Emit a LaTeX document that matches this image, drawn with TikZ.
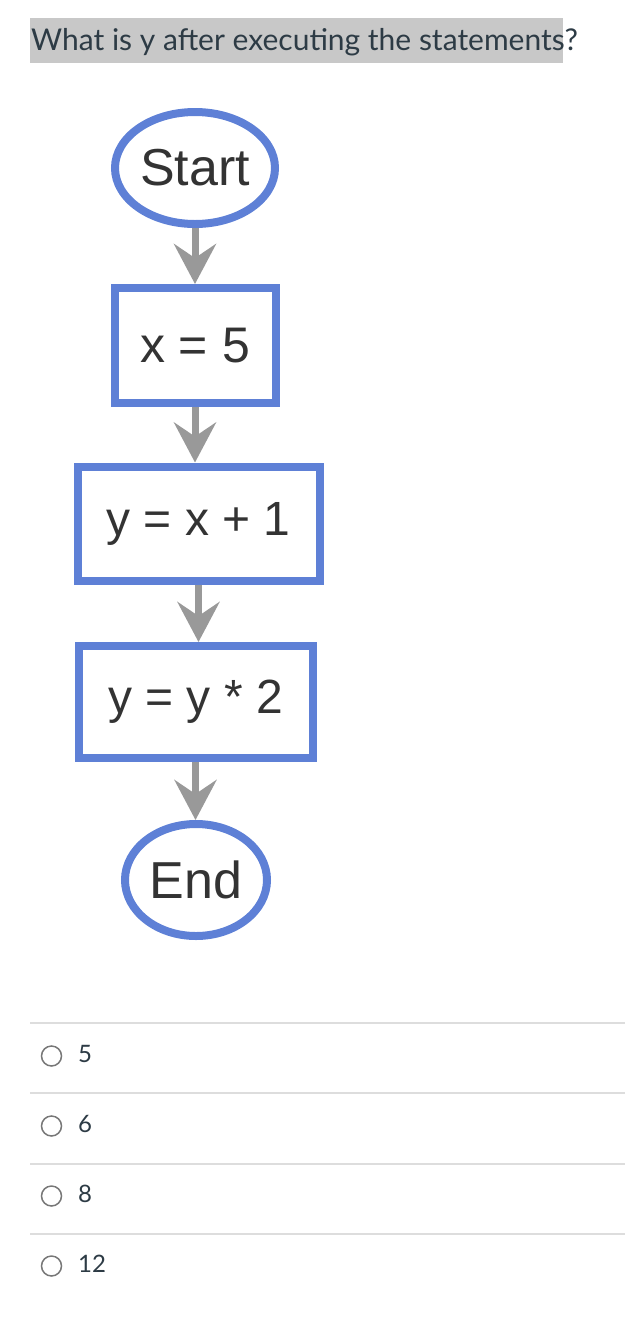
\documentclass[tikz,border=0pt]{standalone}
\usepackage{fontspec}
\setmainfont{Liberation Sans}
\newfontfamily\latofont{Lato}
\newfontfamily\flowfont{Liberation Sans}
\usetikzlibrary{shapes.geometric,arrows.meta,calc}
\definecolor{flowblue}{RGB}{94,128,214}
\definecolor{arrowgray}{RGB}{153,153,153}
\definecolor{flowtext}{RGB}{51,51,51}
\definecolor{canvastext}{RGB}{45,59,69}
\definecolor{hlgray}{RGB}{200,200,200}
\definecolor{sepgray}{RGB}{221,221,221}
\definecolor{radiogray}{RGB}{119,119,119}
\tikzset{
  terminal/.style={ellipse, draw=flowblue, line width=8pt, inner sep=0pt, text=flowtext, font=\flowfont\fontsize{52}{60}\selectfont},
  procbox/.style={rectangle, draw=flowblue, line width=8pt, inner sep=0pt, text=flowtext, font=\flowfont\fontsize{50}{60}\selectfont},
  widebox/.style={procbox, font=\flowfont\fontsize{48}{60}\selectfont},
  flowarrow/.style={draw=arrowgray, line width=7pt, -{Stealth[length=40pt,width=42pt,inset=14pt]}},
  radio/.style={circle, draw=radiogray, line width=1.5pt, minimum size=20pt, inner sep=0pt},
  answer/.style={anchor=west, inner sep=0pt, text=canvastext, font=\latofont\fontsize{24}{28}\selectfont},
  sepline/.style={draw=sepgray, line width=1.5pt}
}
\begin{document}
\begin{tikzpicture}[x=1pt,y=-1pt]
\useasboundingbox (0,0) rectangle (625,1318);
% title
\fill[hlgray] (30,18) rectangle (563,63);
\node[anchor=base west, inner sep=0pt, text=canvastext, font=\latofont\fontsize{30}{34}\selectfont] (title) at (31,50) {What is y after executing the statements?};
% flowchart
\node[terminal, minimum width=160pt, minimum height=112pt] (start) at (195,168) {Start};
\node[procbox, minimum width=161pt, minimum height=115pt] (b1) at (195,345.5) {x = 5};
\node[widebox, minimum width=242pt, minimum height=114pt] (b2) at (198.5,523.5) {y = x + 1};
\node[widebox, minimum width=234pt, minimum height=112pt] (b3) at (195.5,702) {y = y * 2};
\node[terminal, minimum width=142pt, minimum height=112pt] (end) at (196,880) {End};
\draw[flowarrow] (start.south) -- (start.south |- b1.north);
\draw[flowarrow] (b1.south) -- (b1.south |- b2.north);
\draw[flowarrow] (b2.south) -- (b2.south |- b3.north);
\draw[flowarrow] (b3.south) -- (b3.south |- end.north);
% answers
\coordinate (l1a) at (30,1023); \coordinate (l1b) at (625,1023);
\coordinate (l2a) at (30,1093); \coordinate (l2b) at (625,1093);
\coordinate (l3a) at (30,1164); \coordinate (l3b) at (625,1164);
\coordinate (l4a) at (30,1234); \coordinate (l4b) at (625,1234);
\draw[sepline] (l1a) -- (l1b);
\draw[sepline] (l2a) -- (l2b);
\draw[sepline] (l3a) -- (l3b);
\draw[sepline] (l4a) -- (l4b);
\node[radio] (r1) at (51.5,1056) {};
\node[radio] (r2) at (51.5,1126) {};
\node[radio] (r3) at (51.5,1196) {};
\node[radio] (r4) at (51.5,1266) {};
\node[answer] (a1) at (78,1054) {5};
\node[answer] (a2) at (78,1124) {6};
\node[answer] (a3) at (78,1194) {8};
\node[answer] (a4) at (78,1264) {12};
\end{tikzpicture}
\end{document}
